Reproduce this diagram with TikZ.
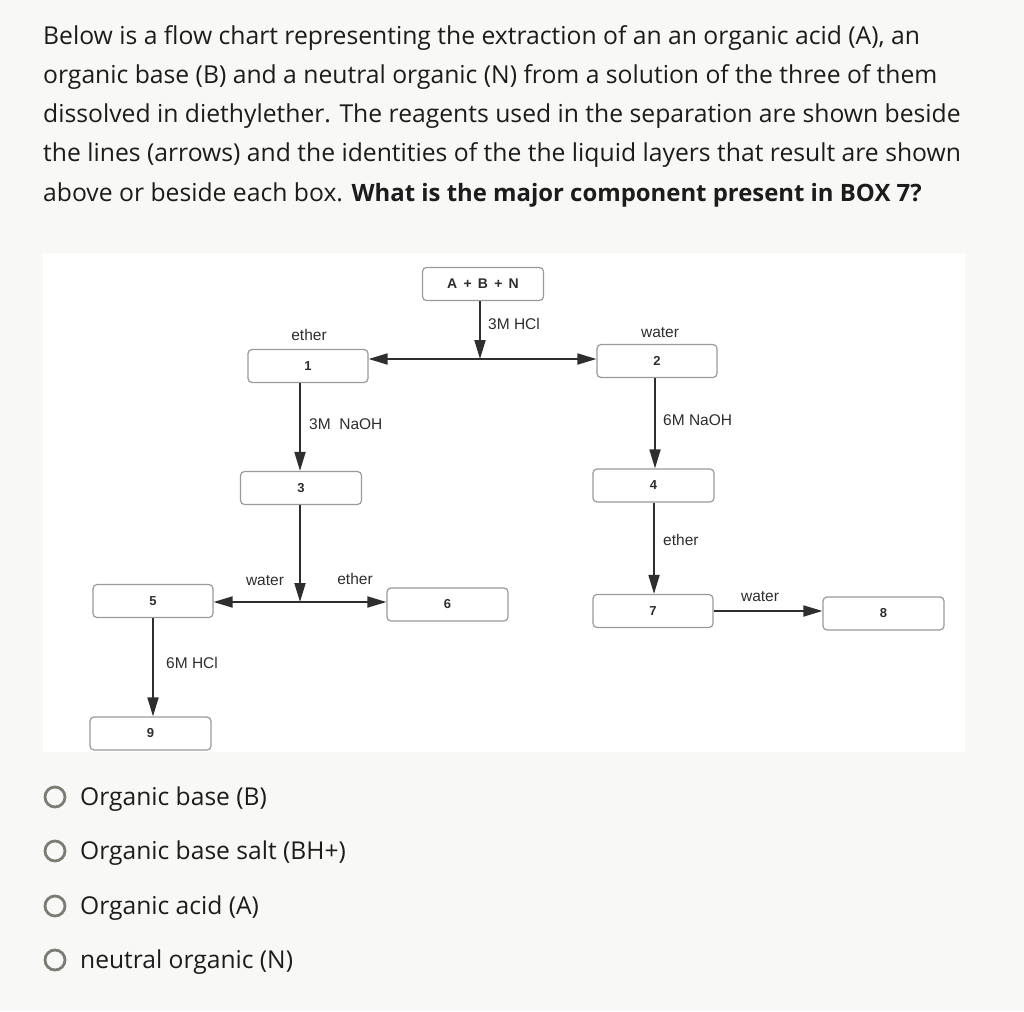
\documentclass[tikz,border=0pt]{standalone}
\usepackage{fontspec}
\setmainfont{Open Sans}
\newfontfamily\diagfont{Liberation Sans}
\usetikzlibrary{arrows.meta}
\definecolor{pagebg}{HTML}{F8F8F6}
\definecolor{txt}{HTML}{1C1C1C}
\definecolor{boxline}{HTML}{9A9A9A}
\definecolor{arrcol}{HTML}{2E2E2E}
\definecolor{radio}{HTML}{7C7C74}
\tikzset{
  para/.style={anchor=base west, inner sep=0pt, text=txt, font=\fontsize{24.7}{28}\selectfont},
  opt/.style={anchor=west, inner sep=0pt, text=txt, font=\fontsize{24.6}{29}\selectfont},
  radiobtn/.style={circle, draw=radio, line width=2.8pt, minimum size=20pt, inner sep=0pt},
  box/.style={draw=boxline, line width=1.2pt, fill=white, rounded corners=4pt, minimum width=120pt, minimum height=33pt, inner sep=0pt, font=\diagfont\bfseries\fontsize{13}{15}\selectfont, text=arrcol},
  lbl/.style={inner sep=0pt, font=\diagfont\fontsize{15.5}{18}\selectfont, text=arrcol},
  conn/.style={draw=arrcol, line width=1.8pt},
  arr/.style={conn, -{Triangle[length=19pt,width=11pt]}},
}
\begin{document}
\begin{tikzpicture}[x=1pt,y=-1pt]
\fill[pagebg] (0,0) rectangle (1024,1011);
\useasboundingbox (0,0) rectangle (1024,1011);
\fill[white] (43,253) rectangle (965,752);
% paragraph
\node[para] (p1) at (43,45) {Below is a flow chart representing the extraction of an an organic acid (A), an};
\node[para] (p2) at (43,84) {organic base (B) and a neutral organic (N) from a solution of the three of them};
\node[para] (p3) at (43,123) {dissolved in diethylether. The reagents used in the separation are shown beside};
\node[para] (p4) at (43,162) {the lines (arrows) and the identities of the the liquid layers that result are shown};
\node[para] (p5) at (43,201) {above or beside each box. {\fontsize{23.9}{28}\selectfont\bfseries What is the major component present in BOX 7?}};
% boxes
\node[box, minimum width=121pt, font=\diagfont\bfseries\fontsize{14}{16}\selectfont] (abn) at (483,284) {A\ \,+\,\ B\ \,+\,\ N};
\node[box] (b1) at (308,366) {1};
\node[box] (b2) at (657,361) {2};
\node[box, minimum width=121pt] (b3) at (301,488) {3};
\node[box, minimum width=121pt] (b4) at (653.5,485.5) {4};
\node[box] (b5) at (153,601) {5};
\node[box, minimum width=121pt] (b6) at (447.5,604.5) {6};
\node[box] (b7) at (653,611) {7};
\node[box, minimum width=121pt] (b8) at (883.5,613.5) {8};
\node[box, minimum width=121pt] (b9) at (150.5,733.5) {9};
% junctions
\coordinate (j1) at (480,359);
\coordinate (j2) at (300,602);
% connectors
\draw[arr] (j1 |- abn.south) -- (j1);
\draw[arr] (j1) -- (j1 -| b1.east);
\draw[arr] (j1) -- (j1 -| b2.west);
\draw[arr] (b1.south -| j2) -- (b3.north -| j2);
\draw[arr] (b3.south -| j2) -- (j2);
\draw[arr] (j2) -- (j2 -| b5.east);
\draw[arr] (j2) -- (j2 -| b6.west);
\draw[arr] (b2.south -| 655,0) -- (b4.north -| 655,0);
\draw[arr] (b4.south -| 654,0) -- (b7.north -| 654,0);
\draw[arr] (b7.east) -- (b7.east -| b8.west);
\draw[arr] (b5.south -| 153,0) -- (b9.north -| 153,0);
% labels
\node[lbl, anchor=west] (l1) at (488,324) {3M HCl};
\node[lbl] (l2) at (309,335) {ether};
\node[lbl] (l3) at (660,333) {water};
\node[lbl, anchor=west] (l4) at (309,424) {3M\ \ NaOH};
\node[lbl, anchor=west] (l5) at (663,420) {6M NaOH};
\node[lbl] (l6) at (265,581) {water};
\node[lbl] (l7) at (355,579) {ether};
\node[lbl, anchor=west] (l8) at (663,540) {ether};
\node[lbl] (l9) at (760,597) {water};
\node[lbl, anchor=west] (l10) at (166,663) {6M HCl};
% options
\node[radiobtn] (r1) at (55,797) {};
\node[radiobtn] (r2) at (55,851) {};
\node[radiobtn] (r3) at (55,906) {};
\node[radiobtn] (r4) at (55,960) {};
\node[opt] (o1) at (80,799) {Organic base (B)};
\node[opt] (o2) at (80,853) {Organic base salt (BH+)};
\node[opt] (o3) at (80,908) {Organic acid (A)};
\node[opt] (o4) at (80,962) {neutral organic (N)};
\end{tikzpicture}
\end{document}
